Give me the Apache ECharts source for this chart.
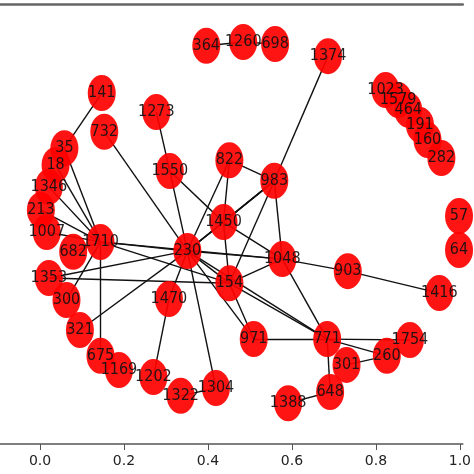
<!DOCTYPE html>
<html><head><meta charset="utf-8">
<script src="https://cdn.jsdelivr.net/npm/echarts@6/dist/echarts.min.js"></script>
<style>html,body{margin:0;padding:0;background:#fff}#c{width:474px;height:474px}</style>
</head><body><div id="c"></div>
<script>
const nodeNames = ['364','1260','698','1374','1023','1579','464','191','160','282','57','64','1416',
 '141','732','1273','35','18','1346','213','1007','682','1710','1353','300','321','675','1169','1202','1322','1304',
 '1470','230','1550','822','983','1450','1048','154','903','971','771','1754','260','301','648','1388'];
const nodeX = [0.396,0.484,0.560,0.686,0.823,0.853,0.877,0.905,0.923,0.956,0.998,0.998,0.951,
 0.147,0.153,0.277,0.058,0.037,0.021,0.002,0.016,0.079,0.144,0.021,0.063,0.095,0.144,0.188,0.270,0.335,0.419,
 0.307,0.351,0.309,0.451,0.558,0.437,0.577,0.451,0.733,0.509,0.684,0.881,0.826,0.730,0.691,0.591];
const nodeY = [0.926,0.935,0.930,0.902,0.823,0.800,0.777,0.742,0.707,0.665,0.530,0.451,0.351,
 0.816,0.726,0.772,0.688,0.649,0.598,0.544,0.493,0.447,0.470,0.386,0.335,0.265,0.205,0.172,0.156,0.112,0.130,
 0.337,0.449,0.635,0.660,0.612,0.516,0.430,0.374,0.402,0.244,0.244,0.242,0.205,0.184,0.121,0.095];
const edgeFrom = ['141','732','1273','1550','1550','35','18','1346','213','1007','682','1710','1710','1710','1353','1353','300','321','675','1470','1470','230','230','230','230','230','230','230','230','822','822','983','983','983','983','983','1450','1450','154','154','154','1048','903','1048','971','771','771','771','301','648','364','1260','1322'];
const edgeTo   = ['35','230','1550','230','1450','1710','1710','1710','1710','1710','1710','230','154','1048','154','230','1710','230','1710','230','1202','1304','1450','822','983','1048','154','971','771','983','1450','1450','1048','154','1374','230','154','1048','1048','971','771','903','1416','771','771','1754','260','648','260','1388','1260','698','1304'];
const xTicks = [0,0.2,0.4,0.6,0.8,1.0];
const xTickLabels = ['0.0','0.2','0.4','0.6','0.8','1.0'];

const chart = echarts.init(document.getElementById('c'));
chart.setOption({
  animation:false,
  grid:{left:0,right:0,top:4,bottom:30},
  xAxis:[{type:'value',min:-41/430,max:433/430,position:'bottom',
    axisLine:{lineStyle:{color:'#555',width:1.5}},splitLine:{show:false},
    axisTick:{show:true,length:6,customValues:xTicks,lineStyle:{color:'#555'}},
    axisLabel:{customValues:xTicks,formatter:v=>xTickLabels[xTicks.findIndex(t=>Math.abs(t-v)<1e-6)],color:'#222',fontSize:14,fontFamily:'DejaVu Sans',margin:10}},
   {type:'value',min:-41/430,max:433/430,position:'top',axisLine:{show:true,lineStyle:{color:'#666',width:2.5}},axisTick:{show:false},axisLabel:{show:false},splitLine:{show:false}}],
  yAxis:{type:'value',min:0,max:440/430,show:false,splitLine:{show:false}},
  series:[{type:'graph',coordinateSystem:'cartesian2d',
    symbol:'circle',symbolSize:[28,36],
    itemStyle:{color:'#ff0000',opacity:0.92},
    label:{show:true,position:'inside',color:'#111',fontSize:16,fontFamily:'DejaVu Sans Condensed, DejaVu Sans'},
    lineStyle:{color:'#111',width:1.4,opacity:1},
    z:2,
    data:nodeNames.map((n,i)=>({name:n,value:[nodeX[i],nodeY[i]]})),
    links:edgeFrom.map((s,i)=>({source:s,target:edgeTo[i]}))
  }]
});
</script></body></html>
